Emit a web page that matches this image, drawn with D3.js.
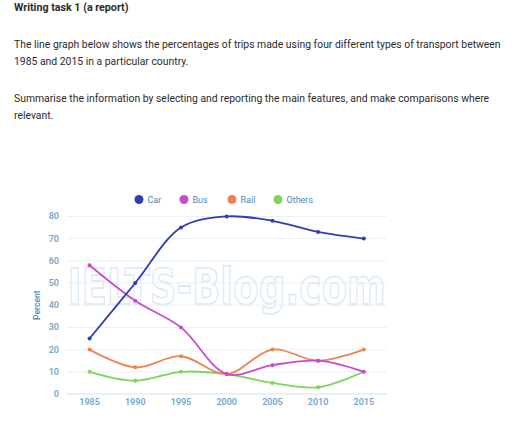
<!DOCTYPE html>
<html lang="en">
<head>
<meta charset="utf-8">
<style type="text/css">
    body { margin: 0; background: #fff; }
    .para { font-family: Roboto, "Noto Sans", sans-serif; fill: #2b2b2b; }
    .tick-label { font-family: Roboto, sans-serif; font-size: 9px; font-weight: 600; fill: #72a6cf; }
    .legend-label { font-family: Roboto, sans-serif; font-size: 9px; fill: #4f86b5; }
</style>
</head>
<body>
<script src="https://cdn.jsdelivr.net/npm/d3@7/dist/d3.min.js"></script>
<script type="text/javascript">
    // chart data
    var years = ["1985", "1990", "1995", "2000", "2005", "2010", "2015"];
    var car = [25, 50, 75, 80, 78, 73, 70];
    var bus = [58, 42, 30, 9, 13, 15, 10];
    var rail = [20, 12, 17, 9, 20, 15, 20];
    var others = [10, 6, 10, 9, 5, 3, 10];
    var seriesNames = ["Car", "Bus", "Rail", "Others"];
    var seriesColors = ["#2f3eb1", "#c94ccf", "#ec8450", "#80d35c"];
    var yTicks = [0, 10, 20, 30, 40, 50, 60, 70, 80];

    var width = 512, height = 422;

    var svg = d3.select("body").append("svg")
        .attr("width", width)
        .attr("height", height);

    svg.append("rect").attr("width", width).attr("height", height).attr("fill", "#fff");

    // task text
    svg.append("text").attr("class", "para")
        .attr("x", 14).attr("y", 11)
        .style("font-size", "10.7px").style("font-weight", "bold")
        .text("Writing task 1 (a report)");

    var lines = [
        ["The line graph below shows the percentages of trips made using four different types of transport between", 48],
        ["1985 and 2015 in a particular country.", 65],
        ["Summarise the information by selecting and reporting the main features, and make comparisons where", 102],
        ["relevant.", 119]
    ];
    svg.selectAll(".body-line")
        .data(lines)
        .enter()
        .append("text")
        .attr("class", "para body-line")
        .attr("x", 14)
        .attr("y", function (d) { return d[1]; })
        .style("font-size", "10.4px")
        .text(function (d) { return d[0]; });

    // chart area
    var x = d3.scalePoint().domain(years).range([66.7, 386.7]).padding(0.5);
    var y = d3.scaleLinear().domain([0, 80]).range([394, 216.4]);

    // grid
    svg.selectAll(".grid")
        .data(yTicks)
        .enter()
        .append("line")
        .attr("x1", 66.7).attr("x2", 386.7)
        .attr("y1", function (d) { return y(d); })
        .attr("y2", function (d) { return y(d); })
        .attr("stroke", function (d) { return d === 0 ? "#cfe2f2" : "#e6f1fa"; })
        .attr("stroke-width", 1);

    // watermark
    svg.append("text")
        .attr("x", 226.7).attr("y", 304)
        .attr("text-anchor", "middle")
        .style("font-family", "'DejaVu Sans', sans-serif")
        .style("font-size", "50px")
        .style("font-weight", "bold")
        .attr("textLength", 318)
        .attr("lengthAdjust", "spacingAndGlyphs")
        .attr("fill", "none")
        .attr("stroke", "#dbeaf6")
        .attr("stroke-width", 1.6)
        .text("IELTS-Blog.com");

    // y ticks
    svg.selectAll(".ytick")
        .data(yTicks)
        .enter()
        .append("text")
        .attr("class", "tick-label")
        .attr("x", 59)
        .attr("y", function (d) { return y(d) + 3; })
        .attr("text-anchor", "end")
        .text(function (d) { return d; });

    // x ticks
    svg.selectAll(".xtick")
        .data(years)
        .enter()
        .append("text")
        .attr("class", "tick-label")
        .attr("x", function (d) { return x(d); })
        .attr("y", 405)
        .attr("text-anchor", "middle")
        .text(function (d) { return d; });

    svg.append("text")
        .attr("class", "legend-label")
        .attr("transform", "translate(40," + y(40) + ") rotate(-90)")
        .attr("text-anchor", "middle")
        .style("font-size", "8.5px")
        .style("font-weight", "500")
        .text("Percent");

    // lines
    var allSeries = [car, bus, rail, others];
    var line = d3.line()
        .x(function (d, i) { return x(years[i]); })
        .y(function (d) { return y(d); })
        .curve(d3.curveCatmullRom.alpha(0.5));

    // draw back to front: others, rail, bus, car
    [3, 2, 1, 0].forEach(function (k) {
        var g = svg.append("g");
        g.append("path")
            .attr("d", line(allSeries[k]))
            .attr("fill", "none")
            .attr("stroke", seriesColors[k])
            .attr("stroke-width", 1.8);
        g.selectAll("circle")
            .data(allSeries[k])
            .enter()
            .append("circle")
            .attr("cx", function (d, i) { return x(years[i]); })
            .attr("cy", function (d) { return y(d); })
            .attr("r", 2)
            .attr("fill", seriesColors[k]);
    });

    // legend
    var legendX = [139, 184, 232, 278];
    var legend = svg.selectAll(".legend")
        .data(seriesNames)
        .enter()
        .append("g")
        .attr("transform", function (d, i) { return "translate(" + legendX[i] + ",199.5)"; });
    legend.append("circle")
        .attr("r", 4.5)
        .attr("fill", function (d, i) { return seriesColors[i]; });
    legend.append("text")
        .attr("class", "legend-label")
        .attr("x", 8.5)
        .attr("y", 3.2)
        .text(function (d) { return d; });
</script>
</body>
</html>
